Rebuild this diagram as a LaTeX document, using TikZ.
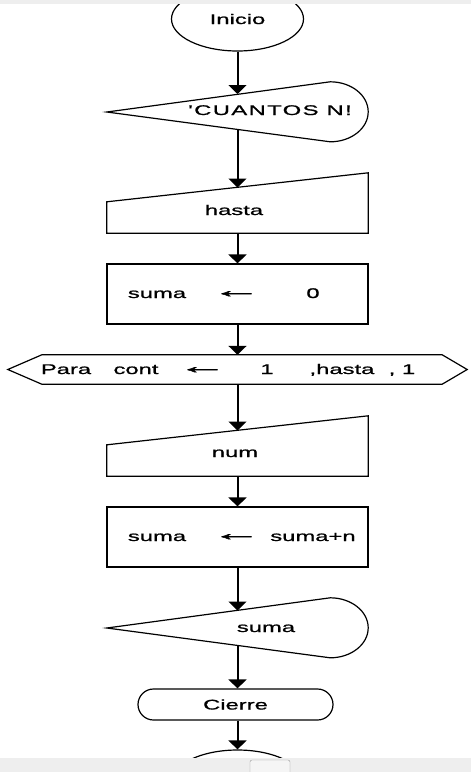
\documentclass[tikz,border=0pt]{standalone}
\usepackage{fontspec}
\setmainfont[FakeStretch=1.7, FakeBold=1]{Liberation Sans}
\newfontfamily\plana[FakeStretch=1.7, FakeBold=1]{Liberation Sans}
\usetikzlibrary{arrows.meta,shapes.geometric,shapes.misc}

\definecolor{barra}{HTML}{EEEEEE}
\definecolor{borde}{HTML}{999999}

\tikzset{
    flow/.style={line width=2pt, -{Triangle[length=9pt,width=18pt]}},
    outline/.style={line width=1.2pt},
    box/.style={inner sep=0pt, minimum width=261pt, minimum height=60pt},
    txt/.style={anchor=base, inner sep=0pt},
}
\newcommand{\asig}{\scalebox{2.1}[1.4]{\addfontfeature{FakeBold=2.5}←}}

\begin{document}
\begin{tikzpicture}[x=1pt, y=-1pt, font=\fontsize{14}{16}\selectfont]
    \useasboundingbox (0,0) rectangle (471,772);

    % Inicio
    \node[ellipse, draw, outline, minimum width=132pt, minimum height=64pt] (ini) at (237.5,19) {Inicio};

    % Pantalla 'CUANTOS N!
    \node[box] (pan1) at (237.5,112) {};
    \draw[outline] (pan1.west) -- ([xshift=-38pt]pan1.north east) arc[start angle=-90, end angle=90, x radius=38, y radius=30] -- cycle;
    \node[txt] (pan1T) at (270,115) {\plana\addfontfeature{LetterSpace=10}'CUANTOS N!};
    \coordinate (pan1in) at (237.5,94);
    \coordinate (pan1out) at (237.5,130);

    % Entrada hasta
    \node[box] (ent1) at (237.5,203) {};
    \draw[outline] ([yshift=-29pt]ent1.north west) -- (ent1.north east) -- (ent1.south east) -- (ent1.south west) -- cycle;
    \node[txt] (ent1T) at (234,215) {hasta};
    \coordinate (ent1in) at (237.5,187.5);

    % suma <- 0
    \node[box, draw, outline] (asig1) at (237.5,294) {};
    \node[txt] (asig1a) at (157,298) {suma};
    \node[txt] (asig1b) at (236.5,297) {\asig};
    \node[txt] (asig1c) at (313,298) {0};

    % Para
    \node[inner sep=0pt, minimum width=459pt, minimum height=29pt] (para) at (237.5,369.5) {};
    \draw[outline] (para.west) -- ([xshift=34pt]para.north west) -- ([xshift=-25pt]para.north east) -- (para.east)
        -- ([xshift=-25pt]para.south east) -- ([xshift=34pt]para.south west) -- cycle;
    \node[txt] (paraA) at (66,374) {Para};
    \node[txt] (paraB) at (136,374) {cont};
    \node[txt] (paraC) at (202.5,373) {\asig};
    \node[txt] (paraD) at (267,374) {1};
    \node[txt] (paraE) at (342,374) {,hasta};
    \node[txt] (paraF) at (402,374) {, 1};

    % Entrada num
    \node[box] (ent2) at (237.5,446) {};
    \draw[outline] ([yshift=-29pt]ent2.north west) -- (ent2.north east) -- (ent2.south east) -- (ent2.south west) -- cycle;
    \node[txt] (ent2T) at (235,457) {num};
    \coordinate (ent2in) at (237.5,430.5);

    % suma <- suma+n
    \node[box, draw, outline] (asig2) at (237.5,537) {};
    \node[txt] (asig2a) at (157,541) {suma};
    \node[txt] (asig2b) at (236.5,540) {\asig};
    \node[txt] (asig2c) at (313,541) {suma+n};

    % Pantalla suma
    \node[box] (pan2) at (237.5,628) {};
    \draw[outline] (pan2.west) -- ([xshift=-38pt]pan2.north east) arc[start angle=-90, end angle=90, x radius=38, y radius=30] -- cycle;
    \node[txt] (pan2T) at (266,632) {suma};
    \coordinate (pan2in) at (237.5,610.5);
    \coordinate (pan2out) at (237.5,645.5);

    % Cierre y siguiente
    \node[rounded rectangle, draw, outline, minimum width=195pt, minimum height=31pt, inner sep=0pt] (fin) at (235.5,704.5) {Cierre};
    \node[ellipse, draw, outline, minimum width=132pt, minimum height=64pt] (sig) at (237.5,782) {};

    % Flechas
    \draw[flow] (ini.south) -- (pan1in);
    \draw[flow] (pan1out) -- (ent1in);
    \draw[flow] (ent1.south) -- (asig1.north);
    \draw[flow] (asig1.south) -- (para.north);
    \draw[flow] (para.south) -- (ent2in);
    \draw[flow] (ent2.south) -- (asig2.north);
    \draw[flow] (asig2.south) -- (pan2in);
    \draw[flow] (pan2out) -- (fin.north -| pan2out);
    \draw[flow] (fin.south -| sig.north) -- (sig.north);

    % Barras de la ventana
    \fill[barra] (0,0) rectangle (471,4);
    \fill[barra] (0,758) rectangle (471,772);
    \draw[borde, fill=barra!60!white, rounded corners=2pt] (250,760) rectangle (290,775);
\end{tikzpicture}
\end{document}
